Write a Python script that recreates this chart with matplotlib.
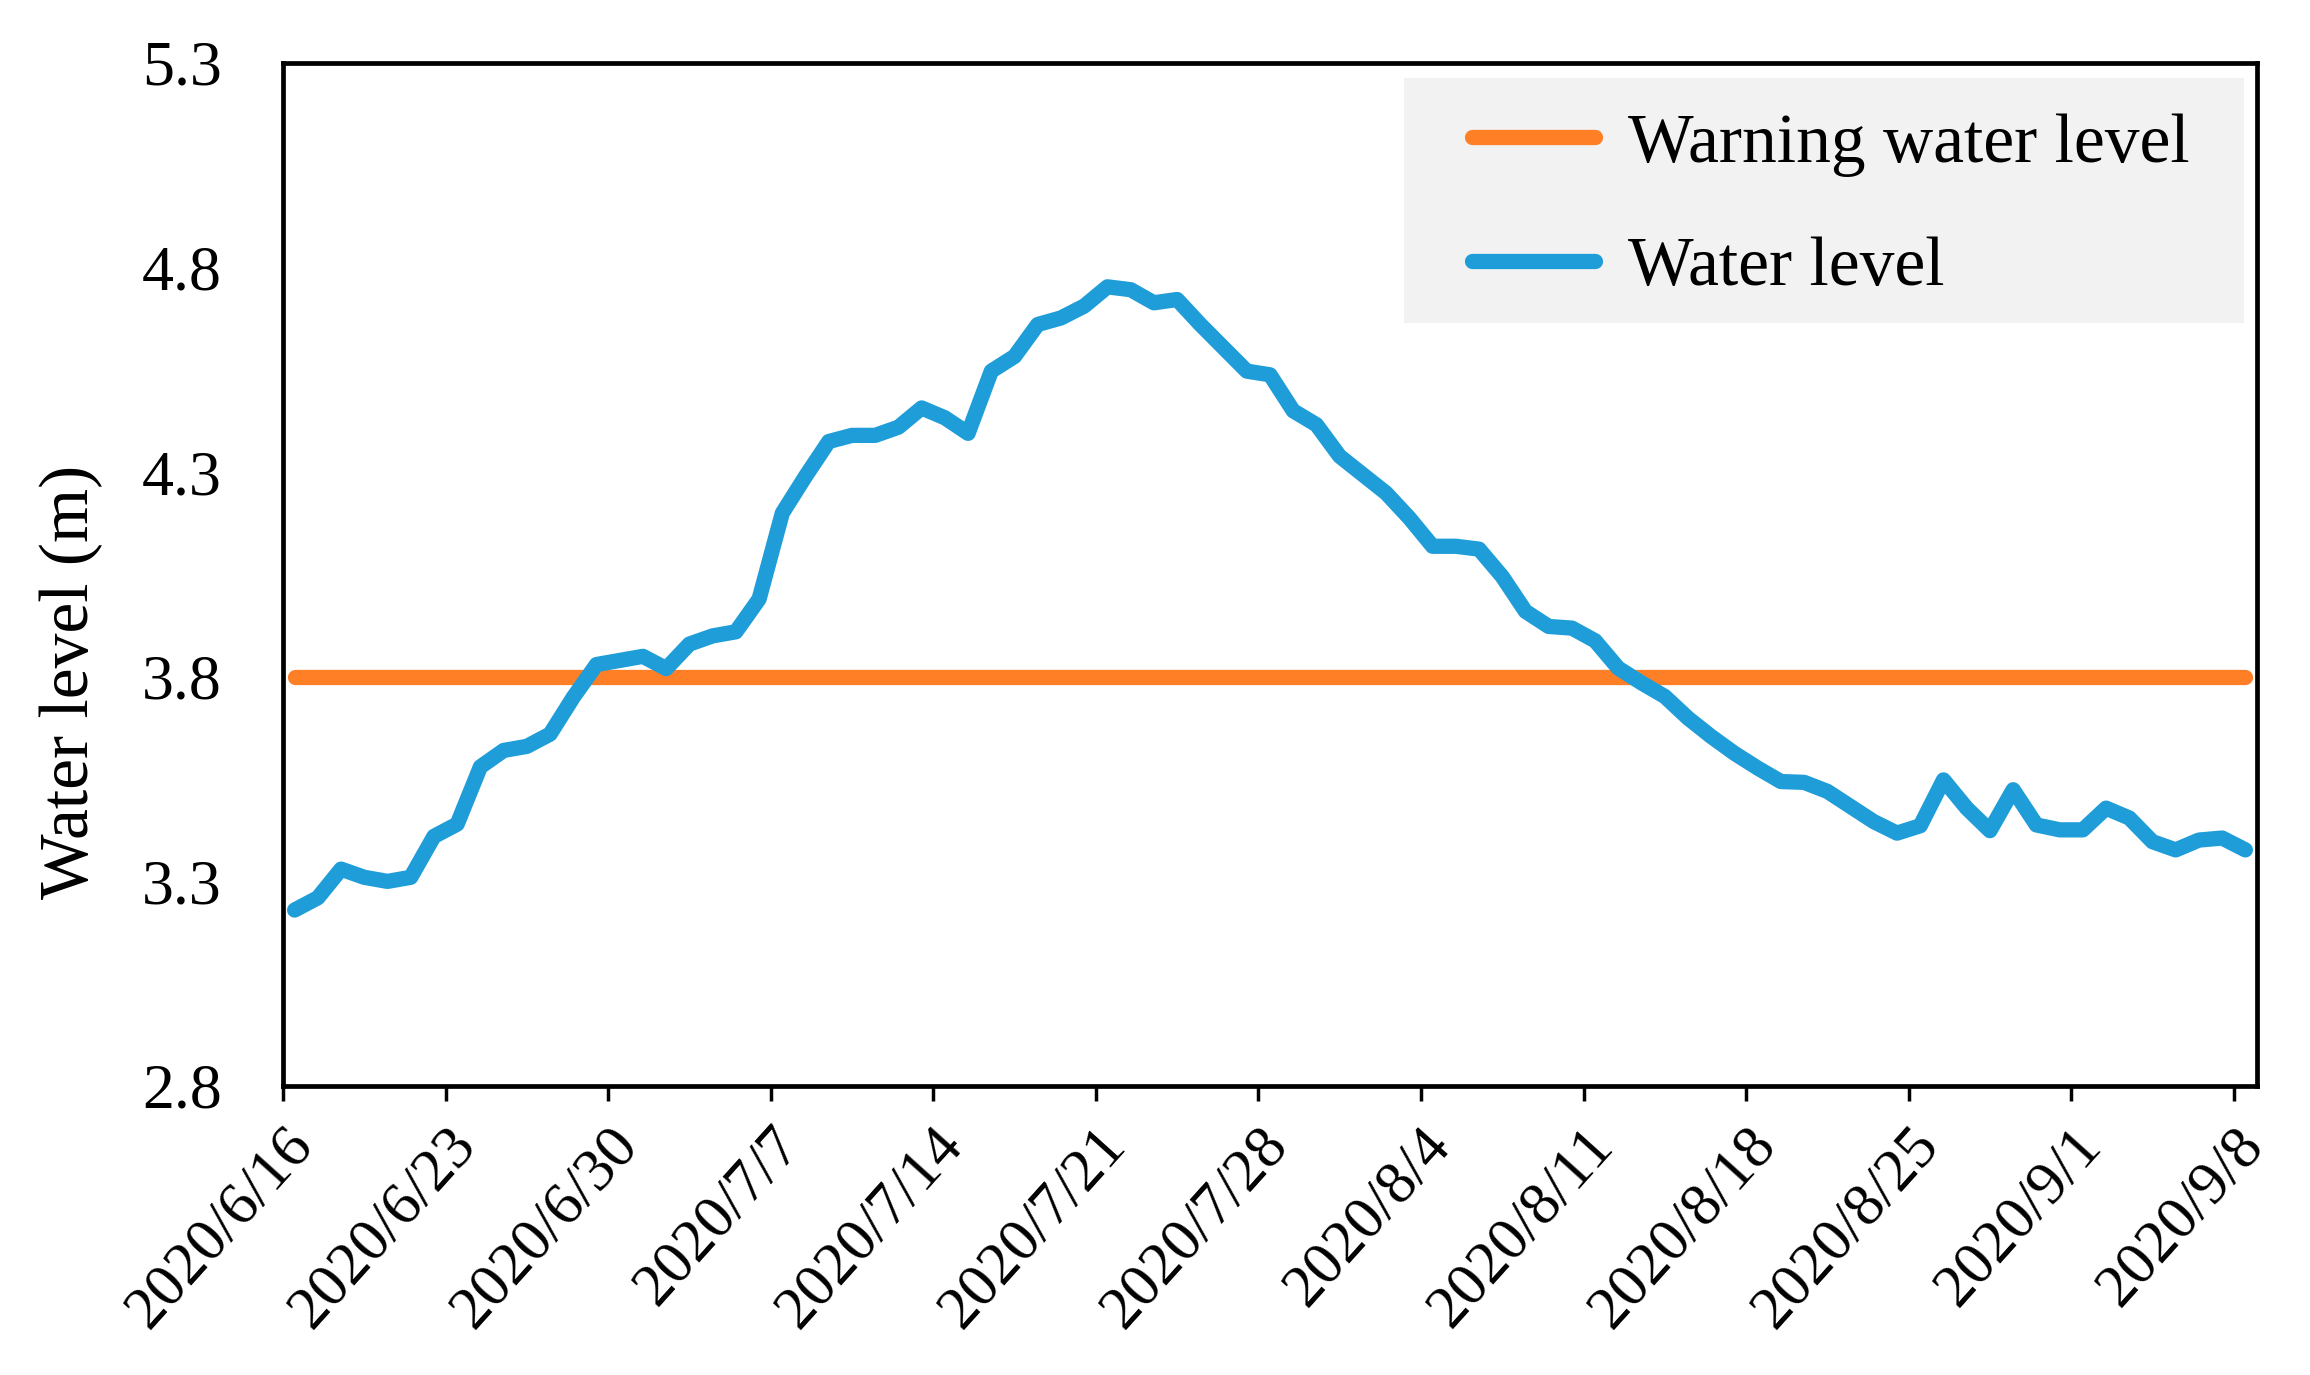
import datetime as dt

import matplotlib
matplotlib.use("Agg")
import matplotlib.pyplot as plt
from matplotlib.patches import Rectangle

# daily water level, 2020/6/16 .. 2020/9/8
start_date = dt.date(2020, 6, 16)
water_level = [
    3.23, 3.26, 3.33, 3.31, 3.30, 3.31, 3.41, 3.44, 3.58, 3.62,
    3.63, 3.66, 3.75, 3.83, 3.84, 3.85, 3.82, 3.88, 3.90, 3.91,
    3.99, 4.20, 4.29, 4.375, 4.39, 4.39, 4.41, 4.457, 4.433, 4.395,
    4.547, 4.583, 4.661, 4.677, 4.706, 4.753, 4.746, 4.714, 4.722, 4.661,
    4.604, 4.547, 4.538, 4.45, 4.416, 4.339, 4.294, 4.249, 4.188, 4.119,
    4.119, 4.112, 4.045, 3.96, 3.923, 3.919, 3.888, 3.821, 3.785, 3.752,
    3.699, 3.654, 3.613, 3.577, 3.544, 3.542, 3.52, 3.483, 3.446, 3.418,
    3.436, 3.548, 3.479, 3.424, 3.524, 3.438, 3.426, 3.426, 3.479, 3.455,
    3.397, 3.377, 3.401, 3.406, 3.377,
]
warning_level = [3.8] * len(water_level)
y_ticks = [2.8, 3.3, 3.8, 4.3, 4.8, 5.3]
tick_every = 7

n = len(water_level)
dates = [start_date + dt.timedelta(days=i) for i in range(n)]
x = [i + 0.5 for i in range(n)]  # points centred in their day
x_ticks = list(range(0, n, tick_every))
x_labels = [f"{d.year}/{d.month}/{d.day}" for d in dates[::tick_every]]

plt.rcParams["font.family"] = ["Liberation Serif", "DejaVu Serif"]
fs = 46

fig = plt.figure(figsize=(23.1, 13.75), dpi=100)
ax = fig.add_axes([283 / 2310, 1 - 1086 / 1375, (2257 - 283) / 2310, (1086 - 63) / 1375])

ax.plot(x, warning_level, color="#ff7f27", lw=11, solid_capstyle="round",
        label="Warning water level")
ax.plot(x, water_level, color="#1f9dd9", lw=11, solid_capstyle="round",
        solid_joinstyle="round", label="Water level")

ax.set_xlim(0, n)
ax.set_ylim(2.8, 5.3)
ax.set_yticks(y_ticks)
ax.set_yticklabels([f"{v:.1f}" for v in y_ticks])
ax.set_xticks(x_ticks)
ax.set_xticklabels(x_labels, rotation=48, ha="right", va="top",
                   rotation_mode="anchor")
ax.set_ylabel("Water level (m)", fontsize=50)
ax.yaxis.set_label_coords(-0.091, 0.395)

ax.tick_params(axis="y", length=0, pad=44, labelsize=fs)
ax.tick_params(axis="x", length=11, width=2.5, direction="out", pad=12, labelsize=44)
for s in ax.spines.values():
    s.set_linewidth(3.4)

# grey legend panel
ax.add_patch(Rectangle((0.568, 0.746), 0.4255, 0.2395, transform=ax.transAxes,
                       facecolor="#f2f2f2", edgecolor="none", zorder=3))
leg = ax.legend(loc="upper left", bbox_to_anchor=(0.6025, 0.951), fontsize=50,
                frameon=False, handlelength=1.77, handletextpad=0.47,
                labelspacing=0.86, borderpad=0, borderaxespad=0)
leg.set_zorder(4)

fig.savefig("out.png", dpi=100)
